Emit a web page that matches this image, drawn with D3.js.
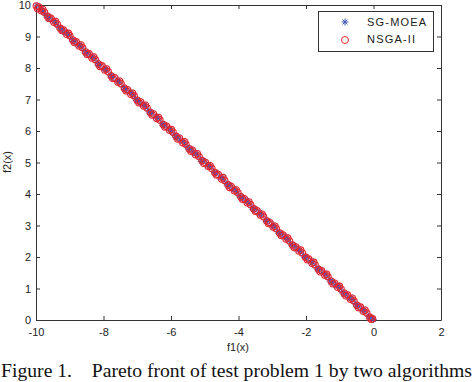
<!DOCTYPE html>
<html><head><meta charset="utf-8">
<script src="https://cdn.jsdelivr.net/npm/d3@7/dist/d3.min.js"></script>
<style>body{margin:0;background:#fff}svg{display:block}</style>
</head><body>
<svg id="c" width="474" height="382"></svg>
<script>
const xTicks = [-10,-8,-6,-4,-2,0,2];
const yTicks = [0,1,2,3,4,5,6,7,8,9,10];
const seriesNames = ["SG-MOEA","NSGA-II"];
const sgF1 = [-9.97,-9.88,-9.79,-9.71,-9.60,-9.52,-9.41,-9.33,-9.22,-9.15,
-9.04,-8.96,-8.85,-8.77,-8.66,-8.58,-8.47,-8.39,-8.28,-8.19,
-8.10,-7.99,-7.91,-7.80,-7.72,-7.61,-7.53,-7.42,-7.33,-7.24,
-7.13,-7.05,-6.94,-6.86,-6.75,-6.66,-6.57,-6.46,-6.38,-6.27,
-6.19,-6.08,-5.99,-5.90,-5.80,-5.71,-5.60,-5.52,-5.41,-5.33,
-5.22,-5.13,-5.04,-4.93,-4.85,-4.74,-4.66,-4.55,-4.46,-4.37,
-4.27,-4.18,-4.07,-3.99,-3.88,-3.80,-3.69,-3.60,-3.51,-3.40,
-3.32,-3.21,-3.13,-3.02,-2.93,-2.84,-2.74,-2.65,-2.54,-2.46,
-2.35,-2.27,-2.16,-2.07,-1.98,-1.87,-1.79,-1.68,-1.60,-1.49,
-1.40,-1.31,-1.21,-1.12,-1.01,-0.93,-0.82,-0.74,-0.63,-0.54,
-0.45,-0.34,-0.26,-0.15,-0.07,0.00];
const sgF2 = [9.99,9.86,9.81,9.69,9.62,9.50,9.43,9.31,9.24,9.13,
9.06,8.94,8.87,8.75,8.68,8.56,8.49,8.37,8.30,8.17,
8.12,7.97,7.93,7.78,7.74,7.59,7.55,7.40,7.35,7.22,
7.15,7.03,6.96,6.84,6.77,6.64,6.59,6.44,6.40,6.25,
6.21,6.06,6.01,5.88,5.82,5.69,5.62,5.50,5.43,5.31,
5.24,5.11,5.06,4.91,4.87,4.72,4.68,4.53,4.48,4.35,
4.29,4.16,4.09,3.97,3.90,3.78,3.71,3.58,3.53,3.38,
3.34,3.19,3.15,3.00,2.95,2.82,2.76,2.63,2.56,2.44,
2.37,2.25,2.18,2.05,2.00,1.85,1.81,1.66,1.62,1.47,
1.42,1.29,1.23,1.10,1.03,0.91,0.84,0.72,0.65,0.52,
0.47,0.32,0.28,0.13,0.09,0.01];
const sgF1b = [-9.84,-9.65,-9.46,-9.27,-9.08,-8.90,-8.71,-8.52,-8.33,-8.14,-7.95,-7.76,-7.57,-7.38,-7.19,-7.00,-6.81,-6.62,-6.42,-6.23,-6.04,-5.85,-5.66,-5.47,-5.28,-5.09,-4.90,-4.70,-4.51,-4.32,-4.13,-3.94,-3.75,-3.56,-3.37,-3.18,-2.98,-2.79,-2.60,-2.41,-2.22,-2.03,-1.84,-1.65,-1.46,-1.26,-1.07,-0.88,-0.69,-0.50,-0.31,-0.12];
const sgF2b = [9.89,9.59,9.51,9.21,9.13,8.84,8.76,8.46,8.38,8.08,8.00,7.70,7.62,7.32,7.24,6.94,6.86,6.56,6.47,6.17,6.09,5.79,5.71,5.41,5.33,5.03,4.95,4.64,4.56,4.26,4.18,3.88,3.80,3.50,3.42,3.12,3.03,2.73,2.65,2.35,2.27,1.97,1.89,1.59,1.51,1.20,1.12,0.82,0.74,0.44,0.36,0.06];
const nsF1 = [-9.99,-9.92,-9.84,-9.75,-9.66,-9.56,-9.47,-9.37,-9.28,-9.19,
-9.09,-9.00,-8.91,-8.81,-8.72,-8.62,-8.53,-8.43,-8.34,-8.24,
-8.15,-8.05,-7.96,-7.86,-7.77,-7.67,-7.57,-7.48,-7.38,-7.29,
-7.19,-7.09,-7.00,-6.90,-6.81,-6.71,-6.61,-6.52,-6.42,-6.33,
-6.23,-6.13,-6.04,-5.94,-5.85,-5.75,-5.65,-5.56,-5.46,-5.37,
-5.27,-5.17,-5.08,-4.98,-4.89,-4.79,-4.70,-4.60,-4.50,-4.41,
-4.31,-4.22,-4.12,-4.02,-3.93,-3.83,-3.74,-3.64,-3.55,-3.45,
-3.35,-3.26,-3.16,-3.07,-2.97,-2.88,-2.78,-2.68,-2.59,-2.49,
-2.40,-2.30,-2.21,-2.11,-2.01,-1.92,-1.82,-1.73,-1.63,-1.54,
-1.44,-1.35,-1.25,-1.15,-1.06,-0.96,-0.87,-0.77,-0.68,-0.58,
-0.49,-0.39,-0.30,-0.20,-0.11,-0.03];
const nsF2 = [9.97,9.94,9.82,9.77,9.64,9.58,9.45,9.39,9.26,9.21,
9.07,9.02,8.89,8.83,8.70,8.64,8.51,8.45,8.32,8.26,
8.13,8.07,7.94,7.88,7.75,7.69,7.55,7.50,7.36,7.31,
7.17,7.11,6.98,6.92,6.79,6.73,6.59,6.54,6.40,6.35,
6.21,6.15,6.02,5.96,5.83,5.77,5.63,5.58,5.44,5.39,
5.25,5.19,5.06,5.00,4.87,4.81,4.68,4.62,4.48,4.43,
4.29,4.24,4.10,4.04,3.91,3.85,3.72,3.66,3.53,3.47,
3.33,3.28,3.14,3.09,2.95,2.90,2.76,2.70,2.57,2.51,
2.38,2.32,2.19,2.13,1.99,1.94,1.80,1.75,1.61,1.56,
1.42,1.37,1.23,1.17,1.04,0.98,0.85,0.79,0.66,0.60,
0.47,0.41,0.28,0.22,0.09,0.04];
const nsF1b = [-9.95,-9.80,-9.61,-9.42,-9.23,-9.04,-8.86,-8.67,-8.48,-8.29,-8.10,-7.91,-7.72,-7.52,-7.33,-7.14,-6.95,-6.76,-6.56,-6.37,-6.18,-5.99,-5.80,-5.60,-5.41,-5.22,-5.03,-4.84,-4.65,-4.46,-4.26,-4.07,-3.88,-3.69,-3.50,-3.30,-3.11,-2.92,-2.73,-2.54,-2.35,-2.16,-1.96,-1.77,-1.58,-1.39,-1.20,-1.01,-0.82,-0.63,-0.44,-0.25,-0.07];
const nsF2b = [9.88,9.86,9.57,9.48,9.19,9.10,8.81,8.73,8.43,8.35,8.05,7.97,7.67,7.58,7.28,7.20,6.90,6.82,6.51,6.43,6.13,6.05,5.75,5.66,5.36,5.28,4.98,4.90,4.60,4.52,4.21,4.13,3.83,3.75,3.45,3.36,3.06,2.98,2.68,2.60,2.30,2.22,1.91,1.83,1.53,1.45,1.15,1.07,0.77,0.69,0.39,0.31,0.02];
const captionText = "Figure 1.    Pareto front of test problem 1 by two algorithms";

const svg = d3.select("#c");
const L=36, R=441, T=5, B=320;
const x = d3.scaleLinear().domain([-10,2]).range([L,R]);
const y = d3.scaleLinear().domain([0,10]).range([B,T]);
const axisColor="#333", font="'Liberation Sans', Arial, sans-serif";
const blue="#3a55b4", red="#e3262e";
const fmt = d=>String(d);

// axes
const gx = svg.append("g").attr("transform",`translate(0,${B})`)
  .call(d3.axisBottom(x).tickValues(xTicks).tickFormat(fmt).tickSizeInner(-4).tickSizeOuter(0).tickPadding(8));
const gy = svg.append("g").attr("transform",`translate(${L},0)`)
  .call(d3.axisLeft(y).tickValues(yTicks).tickFormat(fmt).tickSizeInner(-4).tickSizeOuter(0).tickPadding(5));
const gxt = svg.append("g").attr("transform",`translate(0,${T})`)
  .call(d3.axisTop(x).tickValues(xTicks).tickSizeInner(-4).tickSizeOuter(0).tickFormat(""));
const gyr = svg.append("g").attr("transform",`translate(${R},0)`)
  .call(d3.axisRight(y).tickValues(yTicks).tickSizeInner(-4).tickSizeOuter(0).tickFormat(""));
[gx,gy,gxt,gyr].forEach(g=>{
  g.selectAll("path,line").attr("stroke",axisColor).attr("stroke-width",1);
  g.selectAll("text").attr("fill","#222").style("font-family",font).style("font-size","11px");
});

// points
const gp = svg.append("g");
const star = (g,cx,cy,s,col)=>{
  const p = `M${cx-s},${cy}L${cx+s},${cy}M${cx},${cy-s}L${cx},${cy+s}M${cx-s*0.7},${cy-s*0.7}L${cx+s*0.7},${cy+s*0.7}M${cx-s*0.7},${cy+s*0.7}L${cx+s*0.7},${cy-s*0.7}`;
  g.append("path").attr("d",p).attr("stroke",col).attr("stroke-width",1).attr("fill","none");
};
d3.zip(sgF1.concat(sgF1b),sgF2.concat(sgF2b)).forEach(([a,b])=>star(gp,x(a),y(b),3.3,blue));
gp.selectAll("circle").data(d3.zip(nsF1.concat(nsF1b),nsF2.concat(nsF2b))).join("circle")
  .attr("cx",d=>x(d[0])).attr("cy",d=>y(d[1])).attr("r",3.2)
  .attr("fill","none").attr("stroke",red).attr("stroke-width",1.1);

// legend
const lg = svg.append("g");
lg.append("rect").attr("x",318.5).attr("y",11.5).attr("width",115).attr("height",40)
  .attr("fill","#fff").attr("stroke",axisColor);
star(lg,345,22,3.5,blue);
lg.append("circle").attr("cx",345).attr("cy",40).attr("r",3.5).attr("fill","none").attr("stroke",red);
seriesNames.forEach((n,i)=>lg.append("text").attr("x",367).attr("y",26+i*17).text(n)
  .attr("fill","#222").style("font-family",font).style("font-size","11px").style("letter-spacing","1.2px"));

// labels
svg.append("text").attr("x",238).attr("y",351).attr("text-anchor","middle").text("f1(x)")
  .attr("fill","#222").style("font-family",font).style("font-size","11px");
svg.append("text").attr("transform","translate(11,162) rotate(-90)").attr("text-anchor","middle").text("f2(x)")
  .attr("fill","#222").style("font-family",font).style("font-size","11px");
svg.append("text").attr("x",1).attr("y",377).text(captionText).attr("xml:space","preserve")
  .style("white-space","pre").attr("fill","#111").style("font-family","'Liberation Serif', 'Times New Roman', serif")
  .style("font-size","18px").attr("textLength",471).attr("lengthAdjust","spacingAndGlyphs");
</script>
</body></html>
